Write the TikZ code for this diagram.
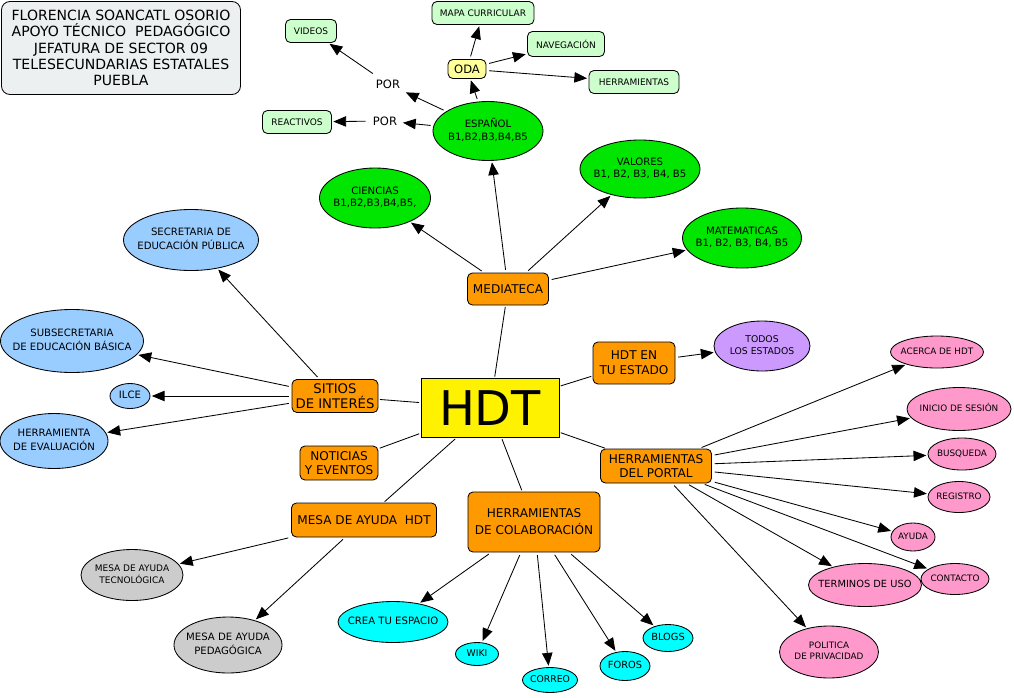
\documentclass[tikz,border=0pt]{standalone}
\usepackage{fontspec}
\setmainfont{DejaVu Sans}
\usetikzlibrary{shapes.geometric,arrows.meta}
\definecolor{orng}{RGB}{255,153,0}
\definecolor{lgrn}{RGB}{204,255,204}
\definecolor{grn}{RGB}{0,230,0}
\definecolor{lblue}{RGB}{153,204,255}
\definecolor{lpink}{RGB}{255,153,204}
\definecolor{lpurp}{RGB}{204,153,255}
\definecolor{lgray}{RGB}{204,204,204}
\definecolor{lcyan}{RGB}{0,255,255}
\definecolor{titlebg}{RGB}{236,240,240}
\definecolor{odacol}{RGB}{255,255,153}
\newcommand{\inell}[1]{\makebox[0pt]{\raisebox{\dimexpr(\depth-\height)/2\relax}[0pt][0pt]{\begin{tabular}[b]{@{}c@{}}#1\end{tabular}}}}

\begin{document}
\begin{tikzpicture}[x=0.25mm, y=-0.25mm,
  nd/.style={draw=black, line width=0.6pt, align=center, inner sep=0pt, text=black},
  sz/.style 2 args={minimum width=#1, minimum height=#2},
  rbox/.style={nd, rounded corners=3.5pt},
  oval/.style={nd, ellipse},
  topic/.style={rbox, fill=orng, font=\fontsize{8.6}{10.5}\selectfont},
  leaf/.style={rbox, fill=lgrn, font=\fontsize{6.4}{7.5}\selectfont},
  subj/.style={oval, fill=grn, font=\fontsize{7.2}{9}\selectfont},
  site/.style={oval, fill=lblue, font=\fontsize{7.2}{9}\selectfont},
  tool/.style={oval, fill=lpink, font=\fontsize{6.3}{8}\selectfont},
  colab/.style={oval, fill=lcyan, font=\fontsize{6.6}{8}\selectfont},
  helpdesk/.style={oval, fill=lgray, font=\fontsize{6.4}{8}\selectfont},
  con/.style={line width=0.6pt, shorten <=1pt, shorten >=1pt},
  arr/.style={con, shorten <=2pt, -{Triangle[length=3.2mm, width=2.6mm]}}]
  \useasboundingbox (0,0) rectangle (1014,697);

  \node[nd, fill=titlebg, rounded corners=6pt, sz={59.75mm}{23.25mm}, font=\fontsize{10}{11.5}\selectfont] (autor) at (121,48)
       {FLORENCIA SOANCATL OSORIO\\APOYO TÉCNICO\ \ PEDAGÓGICO\\JEFATURA DE SECTOR 09\\TELESECUNDARIAS ESTATALES\\PUEBLA};
  \node[nd, fill=yellow, sz={34.5mm}{14.75mm}, font=\fontsize{34}{34}\selectfont] (hdt) at (490,408) {HDT};

  \node[topic, sz={20.25mm}{8mm}] (media) at (508,289) {MEDIATECA};
  \node[topic, sz={21.5mm}{8.25mm}, font=\fontsize{9.4}{10.5}\selectfont] (sitios) at (335,396) {SITIOS\\DE INTERÉS};
  \node[topic, sz={19.5mm}{8.5mm}] (noticias) at (339,463) {NOTICIAS\\Y EVENTOS};
  \node[topic, sz={36.25mm}{8.5mm}] (mesa) at (364,520) {MESA DE AYUDA\ \ HDT};
  \node[topic, sz={33mm}{15mm}, font=\fontsize{8.6}{12}\selectfont] (colab) at (534,522) {HERRAMIENTAS\\DE COLABORACIÓN};
  \node[topic, sz={20.5mm}{10.5mm}] (estado) at (634,363) {HDT EN\\TU ESTADO};
  \node[topic, sz={27.75mm}{8.5mm}] (portal) at (656,466) {HERRAMIENTAS\\DEL PORTAL};

  \node[subj, sz={27.5mm}{14.75mm}] (espanol) at (488,131) {\inell{ESPAÑOL\\B1,B2,B3,B4,B5}};
  \node[subj, sz={27.75mm}{15mm}] (ciencias) at (375,198) {\inell{CIENCIAS\\B1,B2,B3,B4,B5,}};
  \node[subj, sz={30mm}{14.5mm}] (valores) at (640,169) {\inell{VALORES\\B1, B2, B3, B4, B5}};
  \node[subj, sz={29.75mm}{15mm}] (mate) at (742,238) {\inell{MATEMATICAS\\B1, B2, B3, B4, B5}};

  \node[rbox, fill=odacol, sz={9.5mm}{4.75mm}, font=\fontsize{8.2}{9}\selectfont] (oda) at (467,69) {ODA};
  \node[leaf, sz={25.5mm}{5.75mm}] (mapa) at (483,13) {MAPA CURRICULAR};
  \node[leaf, sz={19.25mm}{6.25mm}] (naveg) at (566,44) {NAVEGACIÓN};
  \node[leaf, sz={22.5mm}{5.75mm}] (herram) at (634,82) {HERRAMIENTAS};
  \node[leaf, sz={12.75mm}{5.75mm}] (videos) at (311,31) {VIDEOS};
  \node[leaf, sz={17.25mm}{5.75mm}] (reactivos) at (297,122) {REACTIVOS};
  \node[inner sep=3pt, font=\fontsize{8.2}{9}\selectfont] (porA) at (388,84) {POR};
  \node[inner sep=3pt, font=\fontsize{8.2}{9}\selectfont] (porB) at (385,121) {POR};

  \node[site, sz={33.75mm}{15.25mm}] (sep) at (191,240) {\inell{SECRETARIA DE\\EDUCACIÓN PÚBLICA}};
  \node[site, sz={35.75mm}{15.75mm}] (subsec) at (72,341) {\inell{SUBSECRETARIA\\DE EDUCACIÓN BÁSICA}};
  \node[site, sz={10mm}{6.25mm}] (ilce) at (130,396) {\inell{ILCE}};
  \node[site, sz={27mm}{13.75mm}] (evalua) at (54,441) {\inell{HERRAMIENTA\\DE EVALUACIÓN}};

  \node[helpdesk, sz={25.5mm}{12.75mm}] (mtec) at (132,575) {\inell{MESA DE AYUDA\\TECNOLÓGICA}};
  \node[helpdesk, sz={27mm}{14mm}, font=\fontsize{7.2}{9}\selectfont] (mped) at (228,645) {\inell{MESA DE AYUDA\\PEDAGÓGICA}};

  \node[colab, sz={27.5mm}{10.25mm}, font=\fontsize{7.2}{8}\selectfont] (crea) at (393,622) {\inell{CREA TU ESPACIO}};
  \node[colab, sz={10.75mm}{5.75mm}] (wiki) at (477,654) {\inell{WIKI}};
  \node[colab, sz={13.75mm}{6.25mm}] (correo) at (550,680) {\inell{CORREO}};
  \node[colab, sz={12.5mm}{7.25mm}, font=\fontsize{7}{8}\selectfont] (foros) at (625,666) {\inell{FOROS}};
  \node[colab, sz={12.5mm}{6.75mm}, font=\fontsize{7}{8}\selectfont] (blogs) at (668,638) {\inell{BLOGS}};

  \node[oval, fill=lpurp, sz={24mm}{12.5mm}, font=\fontsize{6.6}{8.5}\selectfont] (todos) at (762,346) {\inell{TODOS\\LOS ESTADOS}};

  \node[tool, sz={23.25mm}{8mm}] (acerca) at (937,352) {\inell{ACERCA DE HDT}};
  \node[tool, sz={26mm}{10.75mm}] (inicio) at (959,409) {\inell{INICIO DE SESIÓN}};
  \node[tool, sz={17mm}{8mm}] (busqueda) at (962,454) {\inell{BUSQUEDA}};
  \node[tool, sz={15.5mm}{7.75mm}] (registro) at (959,497) {\inell{REGISTRO}};
  \node[tool, sz={11mm}{7mm}] (ayuda) at (913,537) {\inell{AYUDA}};
  \node[tool, sz={28.25mm}{10.75mm}, font=\fontsize{7}{8}\selectfont] (terminos) at (865,585) {\inell{TERMINOS DE USO}};
  \node[tool, sz={17mm}{7.75mm}] (contacto) at (955,579) {\inell{CONTACTO}};
  \node[tool, sz={24.75mm}{13mm}] (politica) at (829,652) {\inell{POLITICA\\DE PRIVACIDAD}};

  \foreach \n in {media, sitios, noticias, mesa, colab, estado, portal} \draw[con] (hdt) -- (\n);
  \foreach \a/\b in {media/espanol, media/ciencias, media/valores, media/mate,
                     espanol/oda, espanol/porA, espanol/porB, porA/videos, porB/reactivos,
                     oda/mapa, oda/naveg, oda/herram,
                     sitios/sep, sitios/subsec, sitios/ilce, sitios/evalua,
                     estado/todos, mesa/mtec, mesa/mped,
                     colab/crea, colab/wiki, colab/correo, colab/foros, colab/blogs,
                     portal/acerca, portal/inicio, portal/busqueda, portal/registro,
                     portal/ayuda, portal/terminos, portal/contacto, portal/politica}
    \draw[arr] (\a) -- (\b);
\end{tikzpicture}
\end{document}
